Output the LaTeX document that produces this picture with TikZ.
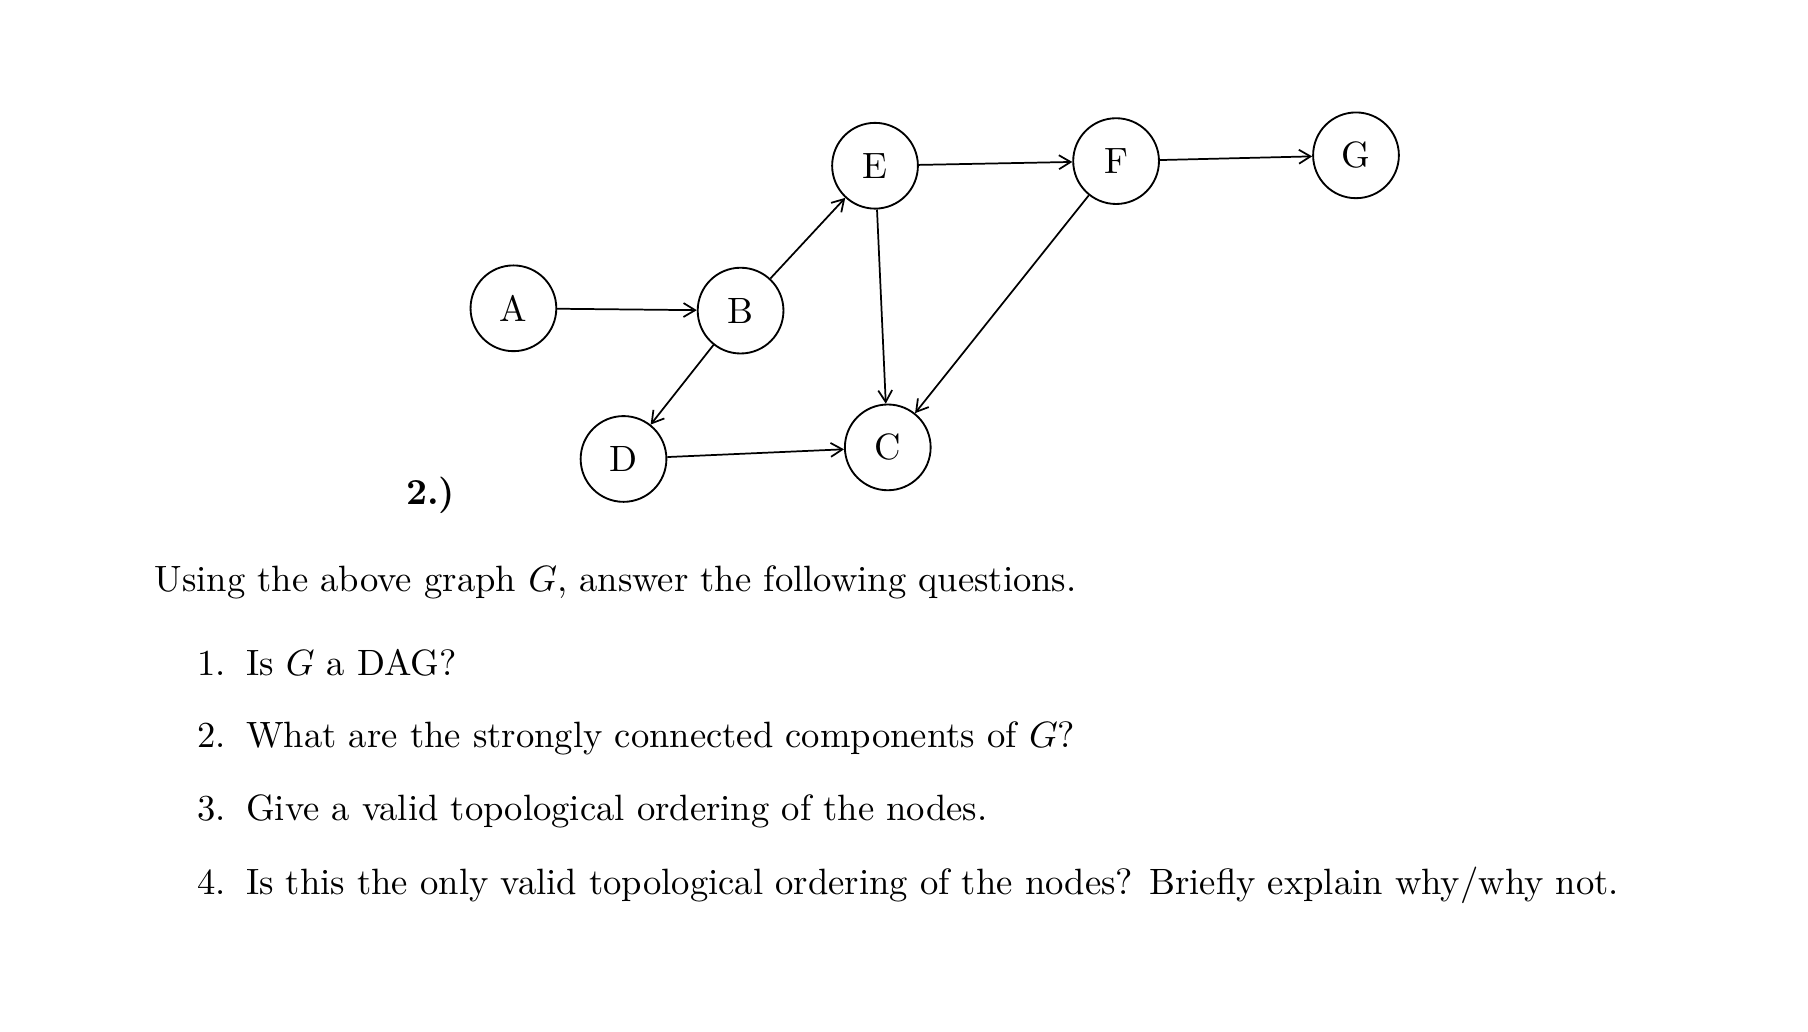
\documentclass[tikz,border=0pt]{standalone}
\usetikzlibrary{arrows.meta}
\newcommand{\bigtxt}[1]{\scalebox{1.58}{\fontsize{10}{12}\selectfont #1}}
\begin{document}
\begin{tikzpicture}[x=0.5pt,y=-0.5pt,
  vtx/.style={circle,draw,thick,minimum size=37pt,inner sep=0pt},
  edge/.style={-{Straight Barb[length=5pt,width=6pt]},line width=0.75pt},
  txt/.style={anchor=base west,inner sep=0pt}]
\useasboundingbox (0,0) rectangle (1560,890);
\node[vtx] (A) at (443,266) {\bigtxt{A}};
\node[vtx] (B) at (639,268) {\bigtxt{B}};
\node[vtx] (E) at (755,143) {\bigtxt{E}};
\node[vtx] (F) at (963,139) {\bigtxt{F}};
\node[vtx] (G) at (1170,134) {\bigtxt{G}};
\node[vtx] (C) at (766,386) {\bigtxt{C}};
\node[vtx] (D) at (538,396) {\bigtxt{D}};
\draw[edge] (A) -- (B);
\draw[edge] (B) -- (E);
\draw[edge] (B) -- (D);
\draw[edge] (E) -- (F);
\draw[edge] (F) -- (G);
\draw[edge] (E) -- (C);
\draw[edge] (F) -- (C);
\draw[edge] (D) -- (C);
\node[txt] (t0) at (350,435) {\bigtxt{\bfseries 2.)}};
\node[txt] (t1) at (133,510) {\bigtxt{Using the above graph $G$, answer the following questions.}};
\node[txt] (n1) at (170,583) {\bigtxt{1.\hspace{5.5pt}Is $G$ a DAG?}};
\node[txt] (n2) at (170,645) {\bigtxt{2.\hspace{5.5pt}What are the strongly connected components of $G$?}};
\node[txt] (n3) at (170,708) {\bigtxt{3.\hspace{5.5pt}Give a valid topological ordering of the nodes.}};
\node[txt] (n4) at (170,772) {\bigtxt{4.\hspace{5.5pt}Is this the only valid topological ordering of the nodes? Briefly explain why/why not.}};
\end{tikzpicture}
\end{document}
